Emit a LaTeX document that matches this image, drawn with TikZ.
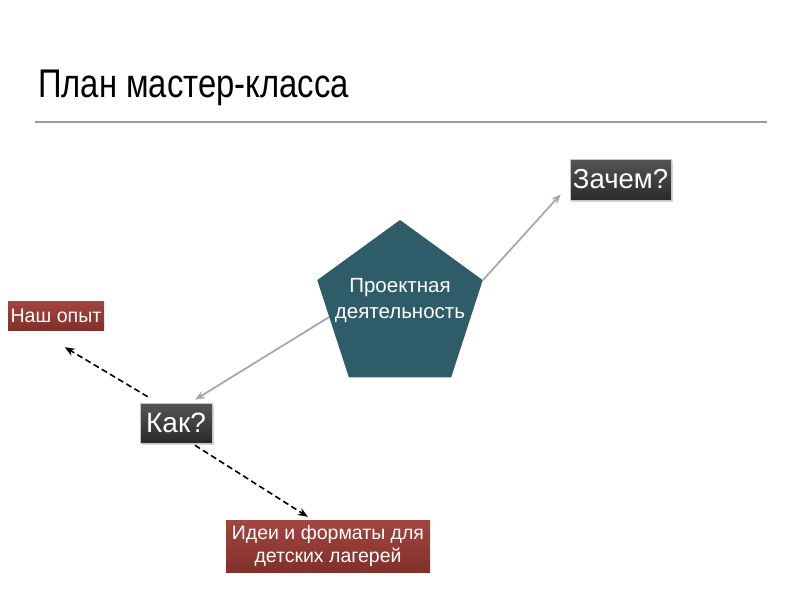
\documentclass[tikz,border=0pt]{standalone}
\usepackage{fontspec}
\setmainfont{Liberation Sans}
\newfontfamily\narrowfont[FakeStretch=0.82]{Liberation Sans}
\usetikzlibrary{arrows.meta,calc,positioning,shapes.geometric,shadows}
\definecolor{lineGray}{HTML}{9A9A9A}
\definecolor{arrowGray}{HTML}{A8A8A8}
\definecolor{projTeal}{HTML}{2F5C69}
\definecolor{boxDarkTop}{HTML}{555555}
\definecolor{boxDarkBot}{HTML}{2A2A2A}
\definecolor{boxRedTop}{HTML}{A2453F}
\definecolor{boxRedBot}{HTML}{82302A}

\begin{document}
\begin{tikzpicture}[
  x=1pt,y=-1pt,
  font=\rmfamily,
  darkbox/.style={draw=gray!45,line width=0.6pt,top color=boxDarkTop,bottom color=boxDarkBot,
    text=white,inner sep=0pt,
    drop shadow={shadow xshift=2pt,shadow yshift=-2pt,opacity=0.35}},
  redbox/.style={top color=boxRedTop,bottom color=boxRedBot,text=white,inner sep=0pt},
  solidarrow/.style={draw=arrowGray,line width=1.8pt,-{Stealth[length=10pt,width=8pt]}},
  dasharrow/.style={draw=black,line width=1.6pt,dash pattern=on 6pt off 3.5pt,-{Stealth[length=10pt,width=8pt]}}
]
  \useasboundingbox (0,0) rectangle (800,600);
  % title and rule
  \node[anchor=base west,inner sep=0pt,font=\narrowfont\fontsize{40}{44}\selectfont] (title) at (38,97) {План мастер-класса};
  \coordinate (ruleL) at (35,122);
  \coordinate (ruleR) at (767,122);
  \draw[lineGray,line width=1.2pt] (ruleL) -- (ruleR);

  % central pentagon
  \node[regular polygon,regular polygon sides=5,minimum size=174pt,inner sep=0pt,fill=projTeal] (proj) at (400,307) {};
  \node[text=white,align=center,font=\fontsize{20.5}{26}\selectfont] (projtext) at (400,300) {Проектная\\деятельность};

  % boxes
  \node[darkbox,minimum width=101pt,minimum height=41pt,font=\fontsize{27.5}{30}\selectfont] (zachem) at (620.5,179.5) {Зачем?};
  \node[darkbox,minimum width=72pt,minimum height=40pt,font=\fontsize{28}{30}\selectfont] (kak) at (176,423) {Как?};
  \node[redbox,minimum width=96pt,minimum height=29pt,font=\fontsize{19.6}{22}\selectfont] (opyt) at (56,315.5) {Наш опыт};
  \node[redbox,minimum width=204pt,minimum height=52pt,align=center,font=\fontsize{19.5}{23}\selectfont] (idei) at (328,546) {Идеи и форматы для\\детских лагерей};

  % connectors
  \draw[solidarrow] (proj.corner 5) -- ($(zachem.south west)+(-9,-6)$);
  \draw[solidarrow] ($(proj.corner 2)!0.38!(proj.corner 3)$) -- ($(kak.north)+(19,-3)$);
  \draw[dasharrow] ($(kak.north west)+(8,-6)$) -- ($(opyt.south west)+(57,17)$);
  \draw[dasharrow] ($(kak.south)+(19,2)$) -- ($(idei.north west)+(82,-3)$);
\end{tikzpicture}
\end{document}
